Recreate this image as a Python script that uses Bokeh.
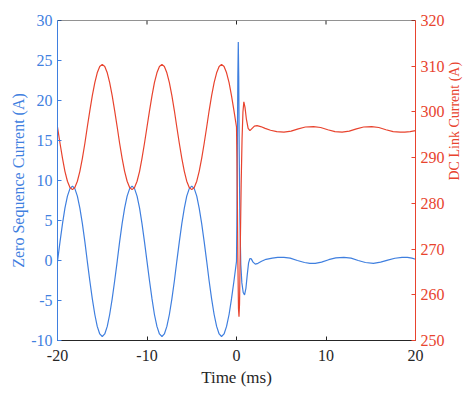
import math
from bokeh.plotting import figure
from bokeh.models import Range1d, LinearAxis, FixedTicker, Span
from bokeh.embed import file_html
from bokeh.resources import INLINE

# ---- data ----
time_pre_ms = [-20.00, -19.72, -19.44, -19.17, -18.89, -18.61, -18.33, -18.06, -17.78, -17.50,
               -17.22, -16.94, -16.67, -16.39, -16.11, -15.83, -15.56, -15.28, -15.00, -14.72,
               -14.44, -14.17, -13.89, -13.61, -13.33, -13.06, -12.78, -12.50, -12.22, -11.94,
               -11.67, -11.39, -11.11, -10.83, -10.56, -10.28, -10.00, -9.72, -9.44, -9.17,
               -8.89, -8.61, -8.33, -8.06, -7.78, -7.50, -7.22, -6.94, -6.67, -6.39,
               -6.11, -5.83, -5.56, -5.28, -5.00, -4.72, -4.44, -4.17, -3.89, -3.61,
               -3.33, -3.06, -2.78, -2.50, -2.22, -1.94, -1.67, -1.39, -1.11, -0.83,
               -0.56, -0.28]

zero_seq_pre_A = [-0.1, 2.33, 4.6, 6.55, 8.04, 8.98, 9.3, 8.98, 8.04, 6.55, 4.6, 2.33,
                  -0.1, -2.53, -4.8, -6.75, -8.24, -9.18, -9.5, -9.18, -8.24, -6.75, -4.8, -2.53,
                  -0.1, 2.33, 4.6, 6.55, 8.04, 8.98, 9.3, 8.98, 8.04, 6.55, 4.6, 2.33,
                  -0.1, -2.53, -4.8, -6.75, -8.24, -9.18, -9.5, -9.18, -8.24, -6.75, -4.8, -2.53,
                  -0.1, 2.33, 4.6, 6.55, 8.04, 8.98, 9.3, 8.98, 8.04, 6.55, 4.6, 2.33,
                  -0.1, -2.53, -4.8, -6.75, -8.24, -9.18, -9.5, -9.18, -8.24, -6.75, -4.8, -2.53]

dc_link_pre_A = [296.7, 293.15, 289.85, 287.01, 284.84, 283.47, 283.0, 283.47, 284.84, 287.01, 289.85, 293.15,
                 296.7, 300.25, 303.55, 306.39, 308.56, 309.93, 310.4, 309.93, 308.56, 306.39, 303.55, 300.25,
                 296.7, 293.15, 289.85, 287.01, 284.84, 283.47, 283.0, 283.47, 284.84, 287.01, 289.85, 293.15,
                 296.7, 300.25, 303.55, 306.39, 308.56, 309.93, 310.4, 309.93, 308.56, 306.39, 303.55, 300.25,
                 296.7, 293.15, 289.85, 287.01, 284.84, 283.47, 283.0, 283.47, 284.84, 287.01, 289.85, 293.15,
                 296.7, 300.25, 303.55, 306.39, 308.56, 309.93, 310.4, 309.93, 308.56, 306.39, 303.55, 300.25]

time_zs_post_ms = [0.00, 0.05, 0.10, 0.15, 0.20, 0.25, 0.30, 0.38, 0.48, 0.60, 0.75, 0.90, 1.05, 1.20,
                   1.35, 1.50, 1.65, 1.85, 2.10, 2.40, 2.80, 3.30, 4.00, 4.60, 5.30, 6.00, 6.80, 7.60,
                   8.20, 8.80, 9.50, 10.30, 11.10, 12.00, 12.80, 13.60, 14.40, 15.30, 16.10, 16.90,
                   17.70, 18.50, 19.10, 19.60, 20.00]
zero_seq_post_A = [-0.1, 6.0, 15.0, 23.0, 27.3, 23.0, 14.0, 5.0, -0.5, -2.8, -4.0, -4.3, -3.5, -1.8,
                   -0.3, 0.25, 0.2, -0.2, -0.45, -0.35, -0.1, 0.15, 0.3, 0.38, 0.4, 0.3, 0.0, -0.25,
                   -0.35, -0.35, -0.2, 0.1, 0.33, 0.4, 0.3, 0.0, -0.25, -0.35, -0.2, 0.05,
                   0.28, 0.4, 0.4, 0.3, 0.15]

time_dc_post_ms = [0.00, 0.05, 0.10, 0.15, 0.22, 0.28, 0.34, 0.42, 0.52, 0.62, 0.72, 0.82, 0.95, 1.10,
                   1.30, 1.50, 1.75, 2.00, 2.30, 2.70, 3.20, 3.80, 4.50, 5.30, 6.10, 6.90, 7.70, 8.60,
                   9.40, 10.20, 11.00, 11.80, 12.60, 13.40, 14.20, 15.10, 15.90, 16.70, 17.50, 18.30,
                   18.80, 19.40, 20.00]
dc_link_post_A = [296.7, 290.0, 280.0, 268.0, 257.0, 255.2, 258.0, 270.0, 284.0, 294.0, 300.0, 302.2, 301.0, 298.5,
                  296.4, 295.9, 296.4, 296.9, 297.0, 296.8, 296.4, 296.0, 295.7, 295.6, 295.8, 296.3, 296.7, 296.8,
                  296.6, 296.1, 295.7, 295.6, 295.8, 296.3, 296.7, 296.8, 296.6, 296.1, 295.7, 295.6,
                  295.6, 295.7, 295.9]

x_ticks = [-20, -10, 0, 10, 20]
left_ticks = [-10, -5, 0, 5, 10, 15, 20, 25, 30]
right_ticks = [250, 260, 270, 280, 290, 300, 310, 320]

BLUE = "#3F7FDF"
RED = "#E8432E"
DARK = "#262626"
FONT = "Liberation Serif"

X_MIN, X_MAX = -20, 20
ZS_MIN, ZS_MAX = -10, 30
DC_MIN, DC_MAX = 250, 320

p = figure(width=474, height=392, output_backend="svg", toolbar_location=None,
           x_range=Range1d(X_MIN, X_MAX), y_range=Range1d(ZS_MIN, ZS_MAX),
           min_border_left=57, min_border_right=59, min_border_top=20, min_border_bottom=52)
p.extra_y_ranges = {"dc": Range1d(DC_MIN, DC_MAX)}
p.xgrid.visible = False
p.ygrid.visible = False
p.outline_line_color = None
p.background_fill_color = "white"
p.border_fill_color = "white"

# bottom axis
xa = p.xaxis[0]
xa.ticker = FixedTicker(ticks=x_ticks)
xa.major_label_overrides = {t: str(t) for t in x_ticks}
xa.minor_tick_line_color = None
xa.major_tick_in = 4
xa.major_tick_out = 0
xa.axis_line_color = DARK
xa.major_tick_line_color = DARK
xa.major_label_text_color = DARK
xa.major_label_text_font = FONT
xa.major_label_text_font_size = "16px"
xa.major_label_standoff = 9
xa.axis_label = "Time (ms)"
xa.axis_label_text_font = FONT
xa.axis_label_text_font_style = "normal"
xa.axis_label_text_font_size = "17px"
xa.axis_label_text_color = DARK
xa.axis_label_standoff = 4

# left axis
ya = p.yaxis[0]
ya.ticker = FixedTicker(ticks=left_ticks)
ya.major_label_overrides = {t: str(t) for t in left_ticks}
ya.minor_tick_line_color = None
ya.major_tick_in = 4
ya.major_tick_out = 0
ya.axis_line_color = BLUE
ya.major_tick_line_color = BLUE
ya.major_label_text_color = BLUE
ya.major_label_text_font = FONT
ya.major_label_text_font_size = "16px"
ya.major_label_standoff = 5
ya.axis_label = "Zero Sequence Current (A)"
ya.axis_label_text_font = FONT
ya.axis_label_text_font_style = "normal"
ya.axis_label_text_font_size = "16px"
ya.axis_label_text_color = BLUE
ya.axis_label_standoff = 1

# right axis
ra = LinearAxis(y_range_name="dc", ticker=FixedTicker(ticks=right_ticks))
ra.minor_tick_line_color = None
ra.major_tick_in = 4
ra.major_tick_out = 0
ra.axis_line_color = RED
ra.major_tick_line_color = RED
ra.major_label_text_color = RED
ra.major_label_text_font = FONT
ra.major_label_text_font_size = "16px"
ra.major_label_standoff = 5
ra.axis_label = "DC Link Current (A)"
ra.axis_label_orientation = math.pi / 2
ra.axis_label_text_font = FONT
ra.axis_label_text_font_style = "normal"
ra.axis_label_text_font_size = "14px"
ra.axis_label_text_color = RED
ra.axis_label_standoff = 7
p.add_layout(ra, "right")

# top edge of the box with inward ticks
p.add_layout(Span(location=ZS_MAX, dimension="width", line_color=DARK, line_width=1))
p.segment(x0=x_ticks, y0=[ZS_MAX] * len(x_ticks), x1=x_ticks, y1=[ZS_MAX - 0.5] * len(x_ticks),
          line_color=DARK, line_width=1)

p.line(time_pre_ms + time_zs_post_ms, zero_seq_pre_A + zero_seq_post_A,
       line_color=BLUE, line_width=1.2)
p.line(time_pre_ms + time_dc_post_ms, dc_link_pre_A + dc_link_post_A,
       line_color=RED, line_width=1.2, y_range_name="dc")

open("out.html", "w").write(file_html(p, INLINE))
